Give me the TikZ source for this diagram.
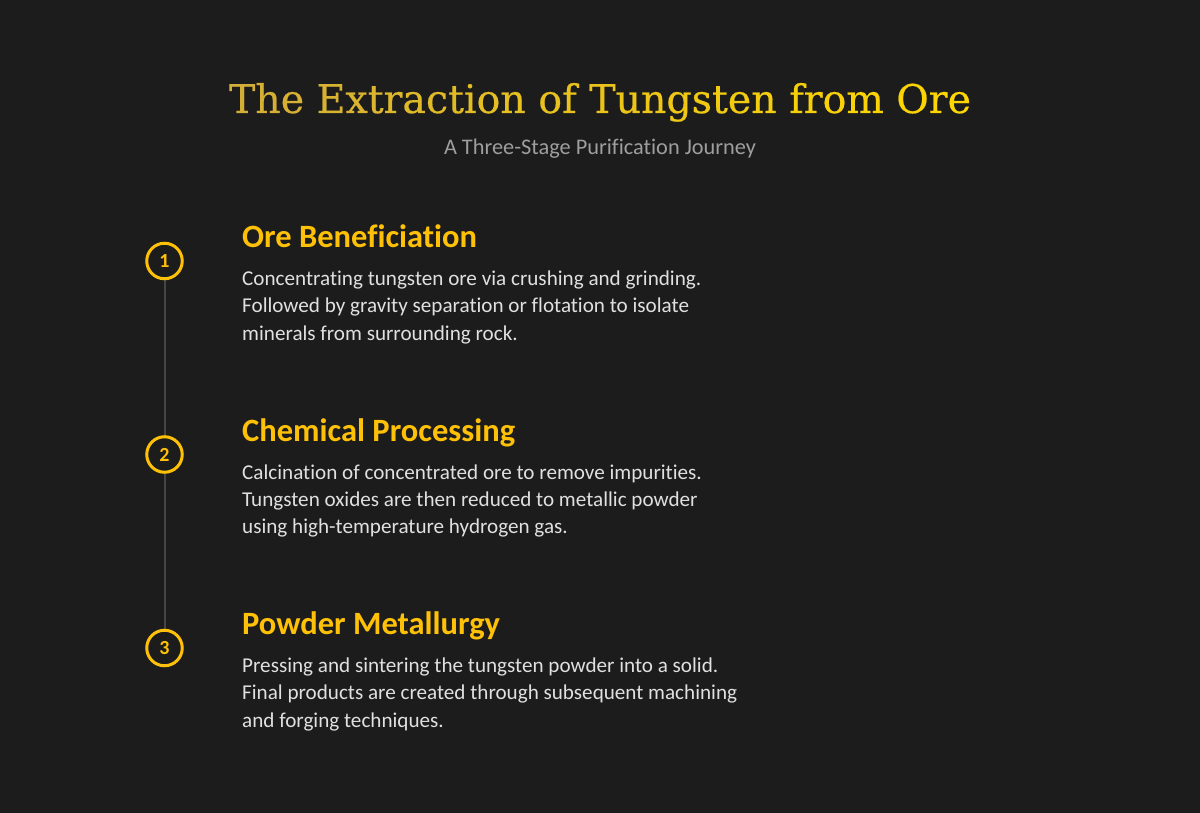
\documentclass[tikz,border=0pt]{standalone}
\usepackage{fontspec}
\setmainfont{Carlito}[Ligatures=NoCommon]
\newfontfamily\titlefont{DejaVu Serif}[FakeBold=0.5]
\usetikzlibrary{backgrounds}
\definecolor{bg}{HTML}{1C1C1C}
\definecolor{amber}{HTML}{FFC107}
\definecolor{bodytext}{HTML}{E0E0E0}
\definecolor{subgray}{HTML}{9E9E9E}
\definecolor{linegray}{HTML}{454545}
\definecolor{gtL}{HTML}{D4AF37}
\definecolor{gtR}{HTML}{FFD700}
\newlength\fitlen
\newcommand\fitsize[4]{\settowidth\fitlen{#2\fontsize{10pt}{12pt}\selectfont #4}\pgfmathsetmacro#1{10*#3/\fitlen}}
\newcount\gtidx
\newcommand\gl[1]{\advance\gtidx by 1\relax\pgfmathtruncatemacro\gtp{100*(\gtidx-1)/29}\textcolor{gtR!\gtp!gtL}{#1}}
\newcommand\titlesz{\fontsize{\titlesize pt}{\titlesize pt}\selectfont}
\newcommand\subsz{\fontsize{\subsize pt}{\subsize pt}\selectfont}
\newcommand\headsz{\fontsize{\headsize pt}{\headsize pt}\selectfont}
\newcommand\bodysz{\fontsize{\bodysize pt}{\bodysize pt}\selectfont}
\newcommand\numsz{\fontsize{20pt}{20pt}\selectfont}
\begin{document}
\fitsize{\titlesize}{\titlefont}{742}{The Extraction of Tungsten from Ore}%
\fitsize{\subsize}{}{312}{A Three-Stage Purification Journey}%
\fitsize{\headsize}{\bfseries}{273}{Chemical Processing}%
\fitsize{\bodysize}{}{495}{Final products are created through subsequent machining}%
\begin{tikzpicture}[x=1pt,y=-1pt,
  titlestyle/.style={anchor=base, inner sep=0, font=\titlefont\titlesz},
  substyle/.style={anchor=base, inner sep=0, text=subgray, font=\subsz},
  headstyle/.style={anchor=base west, inner sep=0, text=amber, font=\bfseries\headsz},
  bodystyle/.style={anchor=base west, inner sep=0, text=bodytext, font=\bodysz},
  numcirc/.style={circle, draw=amber, line width=3pt, fill=bg, minimum size=35.5pt, inner sep=0, text=amber, font=\bfseries\numsz},
  railstyle/.style={draw=linegray, line width=2pt}]
\useasboundingbox (0,0) rectangle (1200,813);
\node[titlestyle] (title) at (600,113) {\gtidx=0 \gl T\gl h\gl e \gl E\gl x\gl t\gl r\gl a\gl c\gl t\gl i\gl o\gl n \gl o\gl f \gl T\gl u\gl n\gl g\gl s\gl t\gl e\gl n \gl f\gl r\gl o\gl m \gl O\gl r\gl e};
\node[substyle] (subtitle) at (600,155) {A Three-Stage Purification Journey};
% stage 1
\node[numcirc] (c1) at (164.5,261) {1};
\node[headstyle] (h1) at (242,247.5) {Ore Beneficiation};
\node[bodystyle] (b1a) at (242,285.5) {Concentrating tungsten ore via crushing and grinding.};
\node[bodystyle] (b1b) at (242,312.8) {Followed by gravity separation or flotation to isolate};
\node[bodystyle] (b1c) at (242,340.1) {minerals from surrounding rock.};
% stage 2
\node[numcirc] (c2) at (164.5,454.5) {2};
\node[headstyle] (h2) at (242,441) {Chemical Processing};
\node[bodystyle] (b2a) at (242,479) {Calcination of concentrated ore to remove impurities.};
\node[bodystyle] (b2b) at (242,506.3) {Tungsten oxides are then reduced to metallic powder};
\node[bodystyle] (b2c) at (242,533.6) {using high-temperature hydrogen gas.};
% stage 3
\node[numcirc] (c3) at (164.5,648) {3};
\node[headstyle] (h3) at (242,634.5) {Powder Metallurgy};
\node[bodystyle] (b3a) at (242,672.5) {Pressing and sintering the tungsten powder into a solid.};
\node[bodystyle] (b3b) at (242,699.8) {Final products are created through subsequent machining};
\node[bodystyle] (b3c) at (242,727.1) {and forging techniques.};
\begin{pgfonlayer}{background}
\fill[bg] (0,0) rectangle (1200,813);
\draw[railstyle] (c1.south) -- (c3.north);
\end{pgfonlayer}
\end{tikzpicture}
\end{document}
